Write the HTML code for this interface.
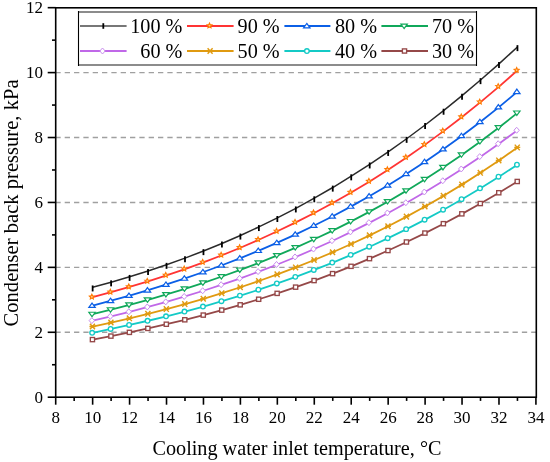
<!DOCTYPE html>
<html><head><meta charset="utf-8"><style>
html,body{margin:0;padding:0;background:#fff;width:550px;height:462px;overflow:hidden}
svg{display:block}
text{font-family:"Liberation Serif","Times New Roman",serif;fill:#000}
</style></head><body>
<svg width="550" height="462" viewBox="0 0 550 462">
<rect width="550" height="462" fill="#fff"/>
<g stroke="#a0a0a0" stroke-width="1.4" stroke-dasharray="5.3 4.03" stroke-dashoffset="0.33"><line x1="55.7" y1="332.28" x2="536" y2="332.28"/><line x1="55.7" y1="267.36" x2="536" y2="267.36"/><line x1="55.7" y1="202.44" x2="536" y2="202.44"/><line x1="55.7" y1="137.52" x2="536" y2="137.52"/><line x1="55.7" y1="72.60" x2="536" y2="72.60"/></g>
<path d="M92.64,287.34 L111.11,282.26 L129.58,276.81 L148.05,270.98 L166.52,264.75 L184.99,258.11 L203.46,251.03 L221.93,243.48 L240.40,235.46 L258.87,226.95 L277.34,217.91 L295.81,208.34 L314.28,198.21 L332.75,187.52 L351.22,176.23 L369.69,164.35 L388.16,151.85 L406.63,138.74 L425.10,125.00 L443.57,110.63 L462.04,95.64 L480.51,80.04 L498.98,63.83 L517.45,47.03" fill="none" stroke="#2a2a2a" stroke-width="1.5" stroke-linejoin="round"/>
<line x1="92.64" y1="285.44" x2="92.64" y2="291.44" stroke="#000000" stroke-width="1.8"/><line x1="111.11" y1="280.36" x2="111.11" y2="286.36" stroke="#000000" stroke-width="1.8"/><line x1="129.58" y1="274.91" x2="129.58" y2="280.91" stroke="#000000" stroke-width="1.8"/><line x1="148.05" y1="269.08" x2="148.05" y2="275.08" stroke="#000000" stroke-width="1.8"/><line x1="166.52" y1="262.85" x2="166.52" y2="268.85" stroke="#000000" stroke-width="1.8"/><line x1="184.99" y1="256.21" x2="184.99" y2="262.21" stroke="#000000" stroke-width="1.8"/><line x1="203.46" y1="249.13" x2="203.46" y2="255.13" stroke="#000000" stroke-width="1.8"/><line x1="221.93" y1="241.58" x2="221.93" y2="247.58" stroke="#000000" stroke-width="1.8"/><line x1="240.40" y1="233.56" x2="240.40" y2="239.56" stroke="#000000" stroke-width="1.8"/><line x1="258.87" y1="225.05" x2="258.87" y2="231.05" stroke="#000000" stroke-width="1.8"/><line x1="277.34" y1="216.01" x2="277.34" y2="222.01" stroke="#000000" stroke-width="1.8"/><line x1="295.81" y1="206.44" x2="295.81" y2="212.44" stroke="#000000" stroke-width="1.8"/><line x1="314.28" y1="196.31" x2="314.28" y2="202.31" stroke="#000000" stroke-width="1.8"/><line x1="332.75" y1="185.62" x2="332.75" y2="191.62" stroke="#000000" stroke-width="1.8"/><line x1="351.22" y1="174.33" x2="351.22" y2="180.33" stroke="#000000" stroke-width="1.8"/><line x1="369.69" y1="162.45" x2="369.69" y2="168.45" stroke="#000000" stroke-width="1.8"/><line x1="388.16" y1="149.95" x2="388.16" y2="155.95" stroke="#000000" stroke-width="1.8"/><line x1="406.63" y1="136.84" x2="406.63" y2="142.84" stroke="#000000" stroke-width="1.8"/><line x1="425.10" y1="123.10" x2="425.10" y2="129.10" stroke="#000000" stroke-width="1.8"/><line x1="443.57" y1="108.73" x2="443.57" y2="114.73" stroke="#000000" stroke-width="1.8"/><line x1="462.04" y1="93.74" x2="462.04" y2="99.74" stroke="#000000" stroke-width="1.8"/><line x1="480.51" y1="78.14" x2="480.51" y2="84.14" stroke="#000000" stroke-width="1.8"/><line x1="498.98" y1="61.93" x2="498.98" y2="67.93" stroke="#000000" stroke-width="1.8"/><line x1="517.45" y1="45.13" x2="517.45" y2="51.13" stroke="#000000" stroke-width="1.8"/>
<path d="M92.64,297.15 L111.11,292.20 L129.58,286.93 L148.05,281.32 L166.52,275.37 L184.99,269.05 L203.46,262.35 L221.93,255.24 L240.40,247.71 L258.87,239.73 L277.34,231.29 L295.81,222.36 L314.28,212.93 L332.75,202.98 L351.22,192.47 L369.69,181.40 L388.16,169.75 L406.63,157.50 L425.10,144.62 L443.57,131.11 L462.04,116.94 L480.51,102.12 L498.98,86.62 L517.45,70.44" fill="none" stroke="#ff3434" stroke-width="1.8" stroke-linejoin="round"/>
<polygon points="91.84,294.30 92.57,295.84 94.27,296.06 93.03,297.24 93.34,298.91 91.84,298.10 90.34,298.91 90.65,297.24 89.41,296.06 91.11,295.84" fill="#ffd0a0" stroke="#ff7a00" stroke-width="1.15"/><polygon points="110.31,289.35 111.04,290.88 112.74,291.11 111.50,292.28 111.81,293.96 110.31,293.15 108.81,293.96 109.12,292.28 107.88,291.11 109.58,290.88" fill="#ffd0a0" stroke="#ff7a00" stroke-width="1.15"/><polygon points="128.78,284.08 129.51,285.61 131.21,285.84 129.97,287.01 130.28,288.69 128.78,287.88 127.28,288.69 127.59,287.01 126.35,285.84 128.05,285.61" fill="#ffd0a0" stroke="#ff7a00" stroke-width="1.15"/><polygon points="147.25,278.47 147.98,280.01 149.68,280.24 148.44,281.41 148.75,283.09 147.25,282.27 145.75,283.09 146.06,281.41 144.82,280.24 146.52,280.01" fill="#ffd0a0" stroke="#ff7a00" stroke-width="1.15"/><polygon points="165.72,272.52 166.45,274.06 168.15,274.28 166.91,275.46 167.22,277.14 165.72,276.32 164.22,277.14 164.53,275.46 163.29,274.28 164.99,274.06" fill="#ffd0a0" stroke="#ff7a00" stroke-width="1.15"/><polygon points="184.19,266.20 184.92,267.74 186.62,267.97 185.38,269.14 185.69,270.82 184.19,270.00 182.69,270.82 183.00,269.14 181.76,267.97 183.46,267.74" fill="#ffd0a0" stroke="#ff7a00" stroke-width="1.15"/><polygon points="202.66,259.50 203.39,261.04 205.09,261.26 203.85,262.44 204.16,264.11 202.66,263.30 201.16,264.11 201.47,262.44 200.23,261.26 201.93,261.04" fill="#ffd0a0" stroke="#ff7a00" stroke-width="1.15"/><polygon points="221.13,252.39 221.86,253.93 223.56,254.15 222.32,255.33 222.63,257.01 221.13,256.19 219.63,257.01 219.94,255.33 218.70,254.15 220.40,253.93" fill="#ffd0a0" stroke="#ff7a00" stroke-width="1.15"/><polygon points="239.60,244.86 240.33,246.40 242.03,246.62 240.79,247.80 241.10,249.47 239.60,248.66 238.10,249.47 238.41,247.80 237.17,246.62 238.87,246.40" fill="#ffd0a0" stroke="#ff7a00" stroke-width="1.15"/><polygon points="258.07,236.88 258.80,238.42 260.50,238.64 259.26,239.82 259.57,241.50 258.07,240.68 256.57,241.50 256.88,239.82 255.64,238.64 257.34,238.42" fill="#ffd0a0" stroke="#ff7a00" stroke-width="1.15"/><polygon points="276.54,228.44 277.27,229.98 278.97,230.20 277.73,231.38 278.04,233.05 276.54,232.24 275.04,233.05 275.35,231.38 274.11,230.20 275.81,229.98" fill="#ffd0a0" stroke="#ff7a00" stroke-width="1.15"/><polygon points="295.01,219.51 295.74,221.05 297.44,221.28 296.20,222.45 296.51,224.13 295.01,223.31 293.51,224.13 293.82,222.45 292.58,221.28 294.28,221.05" fill="#ffd0a0" stroke="#ff7a00" stroke-width="1.15"/><polygon points="313.48,210.08 314.21,211.62 315.91,211.84 314.67,213.02 314.98,214.70 313.48,213.88 311.98,214.70 312.29,213.02 311.05,211.84 312.75,211.62" fill="#ffd0a0" stroke="#ff7a00" stroke-width="1.15"/><polygon points="331.95,200.13 332.68,201.66 334.38,201.89 333.14,203.06 333.45,204.74 331.95,203.93 330.45,204.74 330.76,203.06 329.52,201.89 331.22,201.66" fill="#ffd0a0" stroke="#ff7a00" stroke-width="1.15"/><polygon points="350.42,189.62 351.15,191.16 352.85,191.38 351.61,192.56 351.92,194.24 350.42,193.42 348.92,194.24 349.23,192.56 347.99,191.38 349.69,191.16" fill="#ffd0a0" stroke="#ff7a00" stroke-width="1.15"/><polygon points="368.89,178.55 369.62,180.09 371.32,180.32 370.08,181.49 370.39,183.17 368.89,182.35 367.39,183.17 367.70,181.49 366.46,180.32 368.16,180.09" fill="#ffd0a0" stroke="#ff7a00" stroke-width="1.15"/><polygon points="387.36,166.90 388.09,168.44 389.79,168.66 388.55,169.84 388.86,171.51 387.36,170.70 385.86,171.51 386.17,169.84 384.93,168.66 386.63,168.44" fill="#ffd0a0" stroke="#ff7a00" stroke-width="1.15"/><polygon points="405.83,154.65 406.56,156.18 408.26,156.41 407.02,157.58 407.33,159.26 405.83,158.45 404.33,159.26 404.64,157.58 403.40,156.41 405.10,156.18" fill="#ffd0a0" stroke="#ff7a00" stroke-width="1.15"/><polygon points="424.30,141.77 425.03,143.31 426.73,143.53 425.49,144.71 425.80,146.38 424.30,145.57 422.80,146.38 423.11,144.71 421.87,143.53 423.57,143.31" fill="#ffd0a0" stroke="#ff7a00" stroke-width="1.15"/><polygon points="442.77,128.26 443.50,129.80 445.20,130.02 443.96,131.19 444.27,132.87 442.77,132.06 441.27,132.87 441.58,131.19 440.34,130.02 442.04,129.80" fill="#ffd0a0" stroke="#ff7a00" stroke-width="1.15"/><polygon points="461.24,114.09 461.97,115.63 463.67,115.86 462.43,117.03 462.74,118.71 461.24,117.89 459.74,118.71 460.05,117.03 458.81,115.86 460.51,115.63" fill="#ffd0a0" stroke="#ff7a00" stroke-width="1.15"/><polygon points="479.71,99.27 480.44,100.81 482.14,101.03 480.90,102.20 481.21,103.88 479.71,103.07 478.21,103.88 478.52,102.20 477.28,101.03 478.98,100.81" fill="#ffd0a0" stroke="#ff7a00" stroke-width="1.15"/><polygon points="498.18,83.77 498.91,85.31 500.61,85.53 499.37,86.70 499.68,88.38 498.18,87.57 496.68,88.38 496.99,86.70 495.75,85.53 497.45,85.31" fill="#ffd0a0" stroke="#ff7a00" stroke-width="1.15"/><polygon points="516.65,67.59 517.38,69.13 519.08,69.35 517.84,70.52 518.15,72.20 516.65,71.39 515.15,72.20 515.46,70.52 514.22,69.35 515.92,69.13" fill="#ffd0a0" stroke="#ff7a00" stroke-width="1.15"/>
<path d="M92.64,305.56 L111.11,300.71 L129.58,295.58 L148.05,290.16 L166.52,284.43 L184.99,278.39 L203.46,272.00 L221.93,265.25 L240.40,258.13 L258.87,250.61 L277.34,242.68 L295.81,234.32 L314.28,225.50 L332.75,216.20 L351.22,206.40 L369.69,196.08 L388.16,185.21 L406.63,173.77 L425.10,161.73 L443.57,149.07 L462.04,135.76 L480.51,121.77 L498.98,107.08 L517.45,91.66" fill="none" stroke="#0b5fe6" stroke-width="1.8" stroke-linejoin="round"/>
<polygon points="92.04,303.03 95.24,307.43 88.84,307.43" fill="#fff" stroke="#0b5fe6" stroke-width="1.2"/><polygon points="110.51,298.18 113.71,302.58 107.31,302.58" fill="#fff" stroke="#0b5fe6" stroke-width="1.2"/><polygon points="128.98,293.05 132.18,297.45 125.78,297.45" fill="#fff" stroke="#0b5fe6" stroke-width="1.2"/><polygon points="147.45,287.63 150.65,292.03 144.25,292.03" fill="#fff" stroke="#0b5fe6" stroke-width="1.2"/><polygon points="165.92,281.90 169.12,286.30 162.72,286.30" fill="#fff" stroke="#0b5fe6" stroke-width="1.2"/><polygon points="184.39,275.86 187.59,280.26 181.19,280.26" fill="#fff" stroke="#0b5fe6" stroke-width="1.2"/><polygon points="202.86,269.47 206.06,273.87 199.66,273.87" fill="#fff" stroke="#0b5fe6" stroke-width="1.2"/><polygon points="221.33,262.72 224.53,267.12 218.13,267.12" fill="#fff" stroke="#0b5fe6" stroke-width="1.2"/><polygon points="239.80,255.60 243.00,260.00 236.60,260.00" fill="#fff" stroke="#0b5fe6" stroke-width="1.2"/><polygon points="258.27,248.08 261.47,252.48 255.07,252.48" fill="#fff" stroke="#0b5fe6" stroke-width="1.2"/><polygon points="276.74,240.15 279.94,244.55 273.54,244.55" fill="#fff" stroke="#0b5fe6" stroke-width="1.2"/><polygon points="295.21,231.79 298.41,236.19 292.01,236.19" fill="#fff" stroke="#0b5fe6" stroke-width="1.2"/><polygon points="313.68,222.97 316.88,227.37 310.48,227.37" fill="#fff" stroke="#0b5fe6" stroke-width="1.2"/><polygon points="332.15,213.67 335.35,218.07 328.95,218.07" fill="#fff" stroke="#0b5fe6" stroke-width="1.2"/><polygon points="350.62,203.87 353.82,208.27 347.42,208.27" fill="#fff" stroke="#0b5fe6" stroke-width="1.2"/><polygon points="369.09,193.55 372.29,197.95 365.89,197.95" fill="#fff" stroke="#0b5fe6" stroke-width="1.2"/><polygon points="387.56,182.68 390.76,187.08 384.36,187.08" fill="#fff" stroke="#0b5fe6" stroke-width="1.2"/><polygon points="406.03,171.24 409.23,175.64 402.83,175.64" fill="#fff" stroke="#0b5fe6" stroke-width="1.2"/><polygon points="424.50,159.20 427.70,163.60 421.30,163.60" fill="#fff" stroke="#0b5fe6" stroke-width="1.2"/><polygon points="442.97,146.54 446.17,150.94 439.77,150.94" fill="#fff" stroke="#0b5fe6" stroke-width="1.2"/><polygon points="461.44,133.23 464.64,137.63 458.24,137.63" fill="#fff" stroke="#0b5fe6" stroke-width="1.2"/><polygon points="479.91,119.24 483.11,123.64 476.71,123.64" fill="#fff" stroke="#0b5fe6" stroke-width="1.2"/><polygon points="498.38,104.55 501.58,108.95 495.18,108.95" fill="#fff" stroke="#0b5fe6" stroke-width="1.2"/><polygon points="516.85,89.13 520.05,93.53 513.65,93.53" fill="#fff" stroke="#0b5fe6" stroke-width="1.2"/>
<path d="M92.64,314.13 L111.11,309.61 L129.58,304.83 L148.05,299.77 L166.52,294.43 L184.99,288.78 L203.46,282.81 L221.93,276.51 L240.40,269.85 L258.87,262.82 L277.34,255.40 L295.81,247.56 L314.28,239.29 L332.75,230.57 L351.22,221.36 L369.69,211.66 L388.16,201.43 L406.63,190.65 L425.10,179.29 L443.57,167.33 L462.04,154.74 L480.51,141.49 L498.98,127.55 L517.45,112.88" fill="none" stroke="#10a85a" stroke-width="1.8" stroke-linejoin="round"/>
<polygon points="92.04,316.66 95.24,312.26 88.84,312.26" fill="#fff" stroke="#10a85a" stroke-width="1.2"/><polygon points="110.51,312.14 113.71,307.74 107.31,307.74" fill="#fff" stroke="#10a85a" stroke-width="1.2"/><polygon points="128.98,307.36 132.18,302.96 125.78,302.96" fill="#fff" stroke="#10a85a" stroke-width="1.2"/><polygon points="147.45,302.30 150.65,297.90 144.25,297.90" fill="#fff" stroke="#10a85a" stroke-width="1.2"/><polygon points="165.92,296.96 169.12,292.56 162.72,292.56" fill="#fff" stroke="#10a85a" stroke-width="1.2"/><polygon points="184.39,291.31 187.59,286.91 181.19,286.91" fill="#fff" stroke="#10a85a" stroke-width="1.2"/><polygon points="202.86,285.34 206.06,280.94 199.66,280.94" fill="#fff" stroke="#10a85a" stroke-width="1.2"/><polygon points="221.33,279.04 224.53,274.64 218.13,274.64" fill="#fff" stroke="#10a85a" stroke-width="1.2"/><polygon points="239.80,272.38 243.00,267.98 236.60,267.98" fill="#fff" stroke="#10a85a" stroke-width="1.2"/><polygon points="258.27,265.35 261.47,260.95 255.07,260.95" fill="#fff" stroke="#10a85a" stroke-width="1.2"/><polygon points="276.74,257.93 279.94,253.53 273.54,253.53" fill="#fff" stroke="#10a85a" stroke-width="1.2"/><polygon points="295.21,250.09 298.41,245.69 292.01,245.69" fill="#fff" stroke="#10a85a" stroke-width="1.2"/><polygon points="313.68,241.82 316.88,237.42 310.48,237.42" fill="#fff" stroke="#10a85a" stroke-width="1.2"/><polygon points="332.15,233.10 335.35,228.70 328.95,228.70" fill="#fff" stroke="#10a85a" stroke-width="1.2"/><polygon points="350.62,223.89 353.82,219.49 347.42,219.49" fill="#fff" stroke="#10a85a" stroke-width="1.2"/><polygon points="369.09,214.19 372.29,209.79 365.89,209.79" fill="#fff" stroke="#10a85a" stroke-width="1.2"/><polygon points="387.56,203.96 390.76,199.56 384.36,199.56" fill="#fff" stroke="#10a85a" stroke-width="1.2"/><polygon points="406.03,193.18 409.23,188.78 402.83,188.78" fill="#fff" stroke="#10a85a" stroke-width="1.2"/><polygon points="424.50,181.82 427.70,177.42 421.30,177.42" fill="#fff" stroke="#10a85a" stroke-width="1.2"/><polygon points="442.97,169.86 446.17,165.46 439.77,165.46" fill="#fff" stroke="#10a85a" stroke-width="1.2"/><polygon points="461.44,157.27 464.64,152.87 458.24,152.87" fill="#fff" stroke="#10a85a" stroke-width="1.2"/><polygon points="479.91,144.02 483.11,139.62 476.71,139.62" fill="#fff" stroke="#10a85a" stroke-width="1.2"/><polygon points="498.38,130.08 501.58,125.68 495.18,125.68" fill="#fff" stroke="#10a85a" stroke-width="1.2"/><polygon points="516.85,115.41 520.05,111.01 513.65,111.01" fill="#fff" stroke="#10a85a" stroke-width="1.2"/>
<path d="M92.64,320.61 L111.11,316.32 L129.58,311.78 L148.05,306.96 L166.52,301.86 L184.99,296.46 L203.46,290.75 L221.93,284.71 L240.40,278.33 L258.87,271.59 L277.34,264.47 L295.81,256.96 L314.28,249.04 L332.75,240.70 L351.22,231.91 L369.69,222.66 L388.16,212.94 L406.63,202.73 L425.10,192.01 L443.57,180.76 L462.04,168.98 L480.51,156.64 L498.98,143.74 L517.45,130.26" fill="none" stroke="#c068e8" stroke-width="1.8" stroke-linejoin="round"/>
<polygon points="91.84,317.61 94.54,320.61 91.84,323.61 89.14,320.61" fill="#fff" stroke="#c98ded" stroke-width="1.0"/><polygon points="110.31,313.32 113.01,316.32 110.31,319.32 107.61,316.32" fill="#fff" stroke="#c98ded" stroke-width="1.0"/><polygon points="128.78,308.78 131.48,311.78 128.78,314.78 126.08,311.78" fill="#fff" stroke="#c98ded" stroke-width="1.0"/><polygon points="147.25,303.96 149.95,306.96 147.25,309.96 144.55,306.96" fill="#fff" stroke="#c98ded" stroke-width="1.0"/><polygon points="165.72,298.86 168.42,301.86 165.72,304.86 163.02,301.86" fill="#fff" stroke="#c98ded" stroke-width="1.0"/><polygon points="184.19,293.46 186.89,296.46 184.19,299.46 181.49,296.46" fill="#fff" stroke="#c98ded" stroke-width="1.0"/><polygon points="202.66,287.75 205.36,290.75 202.66,293.75 199.96,290.75" fill="#fff" stroke="#c98ded" stroke-width="1.0"/><polygon points="221.13,281.71 223.83,284.71 221.13,287.71 218.43,284.71" fill="#fff" stroke="#c98ded" stroke-width="1.0"/><polygon points="239.60,275.33 242.30,278.33 239.60,281.33 236.90,278.33" fill="#fff" stroke="#c98ded" stroke-width="1.0"/><polygon points="258.07,268.59 260.77,271.59 258.07,274.59 255.37,271.59" fill="#fff" stroke="#c98ded" stroke-width="1.0"/><polygon points="276.54,261.47 279.24,264.47 276.54,267.47 273.84,264.47" fill="#fff" stroke="#c98ded" stroke-width="1.0"/><polygon points="295.01,253.96 297.71,256.96 295.01,259.96 292.31,256.96" fill="#fff" stroke="#c98ded" stroke-width="1.0"/><polygon points="313.48,246.04 316.18,249.04 313.48,252.04 310.78,249.04" fill="#fff" stroke="#c98ded" stroke-width="1.0"/><polygon points="331.95,237.70 334.65,240.70 331.95,243.70 329.25,240.70" fill="#fff" stroke="#c98ded" stroke-width="1.0"/><polygon points="350.42,228.91 353.12,231.91 350.42,234.91 347.72,231.91" fill="#fff" stroke="#c98ded" stroke-width="1.0"/><polygon points="368.89,219.66 371.59,222.66 368.89,225.66 366.19,222.66" fill="#fff" stroke="#c98ded" stroke-width="1.0"/><polygon points="387.36,209.94 390.06,212.94 387.36,215.94 384.66,212.94" fill="#fff" stroke="#c98ded" stroke-width="1.0"/><polygon points="405.83,199.73 408.53,202.73 405.83,205.73 403.13,202.73" fill="#fff" stroke="#c98ded" stroke-width="1.0"/><polygon points="424.30,189.01 427.00,192.01 424.30,195.01 421.60,192.01" fill="#fff" stroke="#c98ded" stroke-width="1.0"/><polygon points="442.77,177.76 445.47,180.76 442.77,183.76 440.07,180.76" fill="#fff" stroke="#c98ded" stroke-width="1.0"/><polygon points="461.24,165.98 463.94,168.98 461.24,171.98 458.54,168.98" fill="#fff" stroke="#c98ded" stroke-width="1.0"/><polygon points="479.71,153.64 482.41,156.64 479.71,159.64 477.01,156.64" fill="#fff" stroke="#c98ded" stroke-width="1.0"/><polygon points="498.18,140.74 500.88,143.74 498.18,146.74 495.48,143.74" fill="#fff" stroke="#c98ded" stroke-width="1.0"/><polygon points="516.65,127.26 519.35,130.26 516.65,133.26 513.95,130.26" fill="#fff" stroke="#c98ded" stroke-width="1.0"/>
<path d="M92.64,326.53 L111.11,322.53 L129.58,318.30 L148.05,313.83 L166.52,309.09 L184.99,304.08 L203.46,298.78 L221.93,293.18 L240.40,287.25 L258.87,280.99 L277.34,274.38 L295.81,267.40 L314.28,260.02 L332.75,252.24 L351.22,244.03 L369.69,235.37 L388.16,226.25 L406.63,216.63 L425.10,206.51 L443.57,195.85 L462.04,184.63 L480.51,172.83 L498.98,160.43 L517.45,147.41" fill="none" stroke="#e09a10" stroke-width="1.8" stroke-linejoin="round"/>
<path d="M89.44,326.53H95.44M89.94,323.73L94.94,329.33M89.94,329.33L94.94,323.73" stroke="#e09a10" stroke-width="1.4" fill="none"/><path d="M107.91,322.53H113.91M108.41,319.73L113.41,325.33M108.41,325.33L113.41,319.73" stroke="#e09a10" stroke-width="1.4" fill="none"/><path d="M126.38,318.30H132.38M126.88,315.50L131.88,321.10M126.88,321.10L131.88,315.50" stroke="#e09a10" stroke-width="1.4" fill="none"/><path d="M144.85,313.83H150.85M145.35,311.03L150.35,316.63M145.35,316.63L150.35,311.03" stroke="#e09a10" stroke-width="1.4" fill="none"/><path d="M163.32,309.09H169.32M163.82,306.29L168.82,311.89M163.82,311.89L168.82,306.29" stroke="#e09a10" stroke-width="1.4" fill="none"/><path d="M181.79,304.08H187.79M182.29,301.28L187.29,306.88M182.29,306.88L187.29,301.28" stroke="#e09a10" stroke-width="1.4" fill="none"/><path d="M200.26,298.78H206.26M200.76,295.98L205.76,301.58M200.76,301.58L205.76,295.98" stroke="#e09a10" stroke-width="1.4" fill="none"/><path d="M218.73,293.18H224.73M219.23,290.38L224.23,295.98M219.23,295.98L224.23,290.38" stroke="#e09a10" stroke-width="1.4" fill="none"/><path d="M237.20,287.25H243.20M237.70,284.45L242.70,290.05M237.70,290.05L242.70,284.45" stroke="#e09a10" stroke-width="1.4" fill="none"/><path d="M255.67,280.99H261.67M256.17,278.19L261.17,283.79M256.17,283.79L261.17,278.19" stroke="#e09a10" stroke-width="1.4" fill="none"/><path d="M274.14,274.38H280.14M274.64,271.58L279.64,277.18M274.64,277.18L279.64,271.58" stroke="#e09a10" stroke-width="1.4" fill="none"/><path d="M292.61,267.40H298.61M293.11,264.60L298.11,270.20M293.11,270.20L298.11,264.60" stroke="#e09a10" stroke-width="1.4" fill="none"/><path d="M311.08,260.02H317.08M311.58,257.22L316.58,262.82M311.58,262.82L316.58,257.22" stroke="#e09a10" stroke-width="1.4" fill="none"/><path d="M329.55,252.24H335.55M330.05,249.44L335.05,255.04M330.05,255.04L335.05,249.44" stroke="#e09a10" stroke-width="1.4" fill="none"/><path d="M348.02,244.03H354.02M348.52,241.23L353.52,246.83M348.52,246.83L353.52,241.23" stroke="#e09a10" stroke-width="1.4" fill="none"/><path d="M366.49,235.37H372.49M366.99,232.57L371.99,238.17M366.99,238.17L371.99,232.57" stroke="#e09a10" stroke-width="1.4" fill="none"/><path d="M384.96,226.25H390.96M385.46,223.45L390.46,229.05M385.46,229.05L390.46,223.45" stroke="#e09a10" stroke-width="1.4" fill="none"/><path d="M403.43,216.63H409.43M403.93,213.83L408.93,219.43M403.93,219.43L408.93,213.83" stroke="#e09a10" stroke-width="1.4" fill="none"/><path d="M421.90,206.51H427.90M422.40,203.71L427.40,209.31M422.40,209.31L427.40,203.71" stroke="#e09a10" stroke-width="1.4" fill="none"/><path d="M440.37,195.85H446.37M440.87,193.05L445.87,198.65M440.87,198.65L445.87,193.05" stroke="#e09a10" stroke-width="1.4" fill="none"/><path d="M458.84,184.63H464.84M459.34,181.83L464.34,187.43M459.34,187.43L464.34,181.83" stroke="#e09a10" stroke-width="1.4" fill="none"/><path d="M477.31,172.83H483.31M477.81,170.03L482.81,175.63M477.81,175.63L482.81,170.03" stroke="#e09a10" stroke-width="1.4" fill="none"/><path d="M495.78,160.43H501.78M496.28,157.63L501.28,163.23M496.28,163.23L501.28,157.63" stroke="#e09a10" stroke-width="1.4" fill="none"/><path d="M514.25,147.41H520.25M514.75,144.61L519.75,150.21M514.75,150.21L519.75,144.61" stroke="#e09a10" stroke-width="1.4" fill="none"/>
<path d="M92.64,332.77 L111.11,328.99 L129.58,324.99 L148.05,320.75 L166.52,316.27 L184.99,311.53 L203.46,306.51 L221.93,301.21 L240.40,295.61 L258.87,289.70 L277.34,283.45 L295.81,276.86 L314.28,269.91 L332.75,262.58 L351.22,254.85 L369.69,246.72 L388.16,238.15 L406.63,229.14 L425.10,219.66 L443.57,209.69 L462.04,199.23 L480.51,188.25 L498.98,176.73 L517.45,164.65" fill="none" stroke="#14cac6" stroke-width="1.8" stroke-linejoin="round"/>
<circle cx="92.14" cy="332.77" r="2.3" fill="#fff" stroke="#14cac6" stroke-width="1.35"/><circle cx="110.61" cy="328.99" r="2.3" fill="#fff" stroke="#14cac6" stroke-width="1.35"/><circle cx="129.08" cy="324.99" r="2.3" fill="#fff" stroke="#14cac6" stroke-width="1.35"/><circle cx="147.55" cy="320.75" r="2.3" fill="#fff" stroke="#14cac6" stroke-width="1.35"/><circle cx="166.02" cy="316.27" r="2.3" fill="#fff" stroke="#14cac6" stroke-width="1.35"/><circle cx="184.49" cy="311.53" r="2.3" fill="#fff" stroke="#14cac6" stroke-width="1.35"/><circle cx="202.96" cy="306.51" r="2.3" fill="#fff" stroke="#14cac6" stroke-width="1.35"/><circle cx="221.43" cy="301.21" r="2.3" fill="#fff" stroke="#14cac6" stroke-width="1.35"/><circle cx="239.90" cy="295.61" r="2.3" fill="#fff" stroke="#14cac6" stroke-width="1.35"/><circle cx="258.37" cy="289.70" r="2.3" fill="#fff" stroke="#14cac6" stroke-width="1.35"/><circle cx="276.84" cy="283.45" r="2.3" fill="#fff" stroke="#14cac6" stroke-width="1.35"/><circle cx="295.31" cy="276.86" r="2.3" fill="#fff" stroke="#14cac6" stroke-width="1.35"/><circle cx="313.78" cy="269.91" r="2.3" fill="#fff" stroke="#14cac6" stroke-width="1.35"/><circle cx="332.25" cy="262.58" r="2.3" fill="#fff" stroke="#14cac6" stroke-width="1.35"/><circle cx="350.72" cy="254.85" r="2.3" fill="#fff" stroke="#14cac6" stroke-width="1.35"/><circle cx="369.19" cy="246.72" r="2.3" fill="#fff" stroke="#14cac6" stroke-width="1.35"/><circle cx="387.66" cy="238.15" r="2.3" fill="#fff" stroke="#14cac6" stroke-width="1.35"/><circle cx="406.13" cy="229.14" r="2.3" fill="#fff" stroke="#14cac6" stroke-width="1.35"/><circle cx="424.60" cy="219.66" r="2.3" fill="#fff" stroke="#14cac6" stroke-width="1.35"/><circle cx="443.07" cy="209.69" r="2.3" fill="#fff" stroke="#14cac6" stroke-width="1.35"/><circle cx="461.54" cy="199.23" r="2.3" fill="#fff" stroke="#14cac6" stroke-width="1.35"/><circle cx="480.01" cy="188.25" r="2.3" fill="#fff" stroke="#14cac6" stroke-width="1.35"/><circle cx="498.48" cy="176.73" r="2.3" fill="#fff" stroke="#14cac6" stroke-width="1.35"/><circle cx="516.95" cy="164.65" r="2.3" fill="#fff" stroke="#14cac6" stroke-width="1.35"/>
<path d="M92.64,339.60 L111.11,336.10 L129.58,332.37 L148.05,328.42 L166.52,324.24 L184.99,319.80 L203.46,315.09 L221.93,310.11 L240.40,304.84 L258.87,299.26 L277.34,293.37 L295.81,287.14 L314.28,280.57 L332.75,273.63 L351.22,266.32 L369.69,258.63 L388.16,250.53 L406.63,242.01 L425.10,233.07 L443.57,223.68 L462.04,213.84 L480.51,203.53 L498.98,192.75 L517.45,181.48" fill="none" stroke="#954848" stroke-width="1.8" stroke-linejoin="round"/>
<rect x="90.34" y="337.50" width="4.20" height="4.20" fill="#fff" stroke="#954848" stroke-width="1.35"/><rect x="108.81" y="334.00" width="4.20" height="4.20" fill="#fff" stroke="#954848" stroke-width="1.35"/><rect x="127.28" y="330.27" width="4.20" height="4.20" fill="#fff" stroke="#954848" stroke-width="1.35"/><rect x="145.75" y="326.32" width="4.20" height="4.20" fill="#fff" stroke="#954848" stroke-width="1.35"/><rect x="164.22" y="322.14" width="4.20" height="4.20" fill="#fff" stroke="#954848" stroke-width="1.35"/><rect x="182.69" y="317.70" width="4.20" height="4.20" fill="#fff" stroke="#954848" stroke-width="1.35"/><rect x="201.16" y="312.99" width="4.20" height="4.20" fill="#fff" stroke="#954848" stroke-width="1.35"/><rect x="219.63" y="308.01" width="4.20" height="4.20" fill="#fff" stroke="#954848" stroke-width="1.35"/><rect x="238.10" y="302.74" width="4.20" height="4.20" fill="#fff" stroke="#954848" stroke-width="1.35"/><rect x="256.57" y="297.16" width="4.20" height="4.20" fill="#fff" stroke="#954848" stroke-width="1.35"/><rect x="275.04" y="291.27" width="4.20" height="4.20" fill="#fff" stroke="#954848" stroke-width="1.35"/><rect x="293.51" y="285.04" width="4.20" height="4.20" fill="#fff" stroke="#954848" stroke-width="1.35"/><rect x="311.98" y="278.47" width="4.20" height="4.20" fill="#fff" stroke="#954848" stroke-width="1.35"/><rect x="330.45" y="271.53" width="4.20" height="4.20" fill="#fff" stroke="#954848" stroke-width="1.35"/><rect x="348.92" y="264.22" width="4.20" height="4.20" fill="#fff" stroke="#954848" stroke-width="1.35"/><rect x="367.39" y="256.53" width="4.20" height="4.20" fill="#fff" stroke="#954848" stroke-width="1.35"/><rect x="385.86" y="248.43" width="4.20" height="4.20" fill="#fff" stroke="#954848" stroke-width="1.35"/><rect x="404.33" y="239.91" width="4.20" height="4.20" fill="#fff" stroke="#954848" stroke-width="1.35"/><rect x="422.80" y="230.97" width="4.20" height="4.20" fill="#fff" stroke="#954848" stroke-width="1.35"/><rect x="441.27" y="221.58" width="4.20" height="4.20" fill="#fff" stroke="#954848" stroke-width="1.35"/><rect x="459.74" y="211.74" width="4.20" height="4.20" fill="#fff" stroke="#954848" stroke-width="1.35"/><rect x="478.21" y="201.43" width="4.20" height="4.20" fill="#fff" stroke="#954848" stroke-width="1.35"/><rect x="496.68" y="190.65" width="4.20" height="4.20" fill="#fff" stroke="#954848" stroke-width="1.35"/><rect x="515.15" y="179.38" width="4.20" height="4.20" fill="#fff" stroke="#954848" stroke-width="1.35"/>
<g stroke="#000" stroke-width="1.6" fill="none"><rect x="55.7" y="7.8" width="480.6" height="389.4"/></g>
<g stroke="#000" stroke-width="1.6"><line x1="55.70" y1="397.2" x2="55.70" y2="404.7"/><line x1="74.17" y1="397.2" x2="74.17" y2="400.9"/><line x1="92.64" y1="397.2" x2="92.64" y2="404.7"/><line x1="111.11" y1="397.2" x2="111.11" y2="400.9"/><line x1="129.58" y1="397.2" x2="129.58" y2="404.7"/><line x1="148.05" y1="397.2" x2="148.05" y2="400.9"/><line x1="166.52" y1="397.2" x2="166.52" y2="404.7"/><line x1="184.99" y1="397.2" x2="184.99" y2="400.9"/><line x1="203.46" y1="397.2" x2="203.46" y2="404.7"/><line x1="221.93" y1="397.2" x2="221.93" y2="400.9"/><line x1="240.40" y1="397.2" x2="240.40" y2="404.7"/><line x1="258.87" y1="397.2" x2="258.87" y2="400.9"/><line x1="277.34" y1="397.2" x2="277.34" y2="404.7"/><line x1="295.81" y1="397.2" x2="295.81" y2="400.9"/><line x1="314.28" y1="397.2" x2="314.28" y2="404.7"/><line x1="332.75" y1="397.2" x2="332.75" y2="400.9"/><line x1="351.22" y1="397.2" x2="351.22" y2="404.7"/><line x1="369.69" y1="397.2" x2="369.69" y2="400.9"/><line x1="388.16" y1="397.2" x2="388.16" y2="404.7"/><line x1="406.63" y1="397.2" x2="406.63" y2="400.9"/><line x1="425.10" y1="397.2" x2="425.10" y2="404.7"/><line x1="443.57" y1="397.2" x2="443.57" y2="400.9"/><line x1="462.04" y1="397.2" x2="462.04" y2="404.7"/><line x1="480.51" y1="397.2" x2="480.51" y2="400.9"/><line x1="498.98" y1="397.2" x2="498.98" y2="404.7"/><line x1="517.45" y1="397.2" x2="517.45" y2="400.9"/><line x1="535.92" y1="397.2" x2="535.92" y2="404.7"/><line x1="47.7" y1="397.20" x2="55.7" y2="397.20"/><line x1="52.0" y1="364.74" x2="55.7" y2="364.74"/><line x1="47.7" y1="332.28" x2="55.7" y2="332.28"/><line x1="52.0" y1="299.82" x2="55.7" y2="299.82"/><line x1="47.7" y1="267.36" x2="55.7" y2="267.36"/><line x1="52.0" y1="234.90" x2="55.7" y2="234.90"/><line x1="47.7" y1="202.44" x2="55.7" y2="202.44"/><line x1="52.0" y1="169.98" x2="55.7" y2="169.98"/><line x1="47.7" y1="137.52" x2="55.7" y2="137.52"/><line x1="52.0" y1="105.06" x2="55.7" y2="105.06"/><line x1="47.7" y1="72.60" x2="55.7" y2="72.60"/><line x1="52.0" y1="40.14" x2="55.7" y2="40.14"/><line x1="47.7" y1="7.68" x2="55.7" y2="7.68"/></g>
<g font-size="17"><text x="55.70" y="423" text-anchor="middle">8</text><text x="92.64" y="423" text-anchor="middle">10</text><text x="129.58" y="423" text-anchor="middle">12</text><text x="166.52" y="423" text-anchor="middle">14</text><text x="203.46" y="423" text-anchor="middle">16</text><text x="240.40" y="423" text-anchor="middle">18</text><text x="277.34" y="423" text-anchor="middle">20</text><text x="314.28" y="423" text-anchor="middle">22</text><text x="351.22" y="423" text-anchor="middle">24</text><text x="388.16" y="423" text-anchor="middle">26</text><text x="425.10" y="423" text-anchor="middle">28</text><text x="462.04" y="423" text-anchor="middle">30</text><text x="498.98" y="423" text-anchor="middle">32</text><text x="535.92" y="423" text-anchor="middle">34</text><text x="43" y="402.90" text-anchor="end">0</text><text x="43" y="337.98" text-anchor="end">2</text><text x="43" y="273.06" text-anchor="end">4</text><text x="43" y="208.14" text-anchor="end">6</text><text x="43" y="143.22" text-anchor="end">8</text><text x="43" y="78.30" text-anchor="end">10</text><text x="43" y="13.38" text-anchor="end">12</text></g>
<text x="152.5" y="455" font-size="20.2">Cooling water inlet temperature, °C</text>
<text transform="translate(17.8,326.5) rotate(-90)" font-size="20.6">Condenser back pressure, kPa</text>
<rect x="78.5" y="12" width="398" height="53" fill="#fff"/>
<g stroke="#8c8c8c" stroke-width="2"><line x1="78" y1="12" x2="477" y2="12"/><line x1="78" y1="65" x2="477" y2="65"/></g>
<g stroke="#000" stroke-width="1.1"><line x1="78.5" y1="11" x2="78.5" y2="66"/><line x1="476.5" y1="11" x2="476.5" y2="66"/></g>
<line x1="80" y1="26.0" x2="126.6" y2="26.0" stroke="#777" stroke-width="2"/>
<line x1="103.30" y1="23.20" x2="103.30" y2="28.80" stroke="#000000" stroke-width="1.8"/>
<text x="182.4" y="32.7" font-size="20.2" text-anchor="end">100 %</text>
<line x1="187" y1="26.0" x2="233.6" y2="26.0" stroke="#ff3434" stroke-width="2"/>
<polygon points="209.50,23.15 210.23,24.69 211.93,24.91 210.69,26.09 211.00,27.76 209.50,26.95 208.00,27.76 208.31,26.09 207.07,24.91 208.77,24.69" fill="#ffd0a0" stroke="#ff7a00" stroke-width="1.15"/>
<text x="279.6" y="32.7" font-size="20.2" text-anchor="end">90 %</text>
<line x1="284.4" y1="26.0" x2="330.4" y2="26.0" stroke="#0b5fe6" stroke-width="2"/>
<polygon points="306.80,23.47 310.00,27.87 303.60,27.87" fill="#fff" stroke="#0b5fe6" stroke-width="1.2"/>
<text x="377" y="32.7" font-size="20.2" text-anchor="end">80 %</text>
<line x1="381.4" y1="26.0" x2="428" y2="26.0" stroke="#10a85a" stroke-width="2"/>
<polygon points="404.10,28.53 407.30,24.13 400.90,24.13" fill="#fff" stroke="#10a85a" stroke-width="1.2"/>
<text x="474" y="32.7" font-size="20.2" text-anchor="end">70 %</text>
<line x1="80" y1="51.0" x2="126.6" y2="51.0" stroke="#c068e8" stroke-width="2"/>
<polygon points="102.50,48.00 105.20,51.00 102.50,54.00 99.80,51.00" fill="#fff" stroke="#c98ded" stroke-width="1.0"/>
<text x="182.4" y="57.7" font-size="20.2" text-anchor="end">60 %</text>
<line x1="187" y1="51.0" x2="233.6" y2="51.0" stroke="#e09a10" stroke-width="2"/>
<path d="M207.10,51.00H213.10M207.60,48.20L212.60,53.80M207.60,53.80L212.60,48.20" stroke="#e09a10" stroke-width="1.4" fill="none"/>
<text x="279.6" y="57.7" font-size="20.2" text-anchor="end">50 %</text>
<line x1="284.4" y1="51.0" x2="330.4" y2="51.0" stroke="#14cac6" stroke-width="2"/>
<circle cx="306.90" cy="51.00" r="2.3" fill="#fff" stroke="#14cac6" stroke-width="1.35"/>
<text x="377" y="57.7" font-size="20.2" text-anchor="end">40 %</text>
<line x1="381.4" y1="51.0" x2="428" y2="51.0" stroke="#954848" stroke-width="2"/>
<rect x="402.40" y="48.90" width="4.20" height="4.20" fill="#fff" stroke="#954848" stroke-width="1.35"/>
<text x="474" y="57.7" font-size="20.2" text-anchor="end">30 %</text>
</svg></body></html>
